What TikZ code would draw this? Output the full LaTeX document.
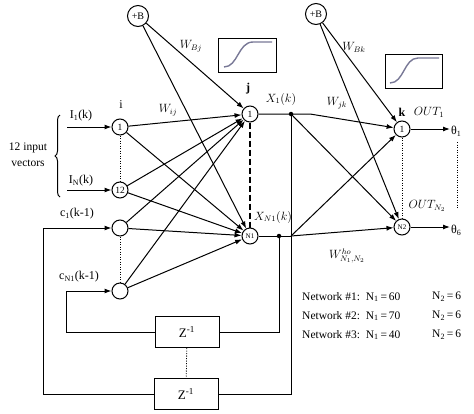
\documentclass[tikz,border=0pt]{standalone}
\usepackage{fontspec}
\setmainfont{Liberation Serif}
\usetikzlibrary{arrows.meta,decorations.pathreplacing,calc}
\definecolor{sigc}{RGB}{120,120,150}
\begin{document}
\begin{tikzpicture}[x=1pt,y=-1pt,
  neuron/.style={circle,draw,line width=1pt,minimum size=16pt,inner sep=0pt,font=\fontsize{9.5}{9.5}\selectfont},
  bias/.style={circle,draw,line width=1pt,minimum size=21pt,inner sep=0pt,font=\fontsize{10}{10}\selectfont},
  zbox/.style={draw,line width=1pt,minimum width=64pt,minimum height=31pt,inner sep=0pt,font=\fontsize{13}{13}\selectfont},
  sbox/.style={draw,line width=1pt,inner sep=0pt},
  arr/.style={line width=1pt,-{Latex[length=7pt,width=5pt]}},
  ln/.style={line width=1pt},
  dots/.style={line width=0.8pt,dash pattern=on 1pt off 1.5pt},
  lbl/.style={font=\fontsize{12}{12}\selectfont,inner sep=1pt},
  wl/.style={font=\fontsize{12}{12}\selectfont,inner sep=1pt},
  tbl/.style={font=\fontsize{11.5}{11.5}\selectfont,inner sep=1pt,anchor=west},
  dot/.style={circle,fill,inner sep=0pt,minimum size=4.5pt},
  sig/.style={line width=1.4pt,color=sigc},
]
\useasboundingbox (0,0) rectangle (474,413);

% nodes
\node[bias] (B1) at (138,16) {+B};
\node[bias] (B2) at (316,14) {+B};
\node[neuron] (i1) at (120,127) {1};
\node[neuron] (i12) at (120,190) {12};
\node[neuron] (c1) at (120,228) {};
\node[neuron] (cN) at (120,291) {};
\node[neuron] (j1) at (250,114) {1};
\node[neuron] (jN) at (250,236) {\fontsize{7}{7}\selectfont N1};
\node[neuron] (k1) at (402,129) {1};
\node[neuron] (kN) at (402,227) {\fontsize{7}{7}\selectfont N2};

% sigmoid boxes
\node[sbox,minimum width=58pt,minimum height=34pt] (s1) at (247,55) {};
\node[sbox,minimum width=57pt,minimum height=34pt] (s2) at (413.5,71) {};
\draw[sig] (224,67) .. controls (238,67) and (238,42) .. (253,42) -- (272,42);
\draw[sig] (390,83) .. controls (404,83) and (404,58) .. (418,58) -- (439,58);

% delay boxes
\node[zbox] (z1) at (187,332) {Z\textsuperscript{-1}};
\node[zbox] (z2) at (186,394) {Z\textsuperscript{-1}};

% inputs
\coordinate (in1) at (67,127);
\coordinate (inN) at (67,190);
\draw[arr] (in1) -- (i1);
\draw[arr] (inN) -- (i12);
\node[lbl] (lI1) at (81,116) {I\textsubscript{1}(k)};
\node[lbl] (lIN) at (81,181) {I\textsubscript{N}(k)};
\draw[ln,decorate,decoration={brace,amplitude=5pt}] (60,197) -- (60,115);
\node[lbl,align=center,font=\fontsize{11.5}{16}\selectfont] (l12) at (28,155) {12 input\\vectors};

% dotted separators
\draw[dots] (i1) -- (i12);
\draw[dots] (c1) -- (cN);
\draw[dots] (z1) -- (z2);
\draw[dots] (k1) -- (kN);
\coordinate (dt1) at (457,142);
\coordinate (dt2) at (457,208);
\draw[dots] (dt1) -- (dt2);
\draw[line width=2.2pt,dash pattern=on 6pt off 3pt] (j1) -- (jN);

% input -> hidden
\foreach \s in {i1,i12,c1,cN,B1} {
  \draw[arr] (\s) -- (j1);
  \draw[arr] (\s) -- (jN);
}

% hidden -> output
\node[dot] (d1) at (291,114) {};
\coordinate (bend1) at (310,114);
\draw[arr] (j1) -- (d1.center) -- (bend1) -- (k1);
\draw[arr] (d1.center) -- (kN);
\draw[ln] (d1.center) |- (z2.east);
\node[dot] (d2) at (279,236) {};
\coordinate (J2) at (291,236);
\draw[ln] (jN) -- (J2);
\draw[arr] (J2) -- (k1);
\draw[arr] (J2) -- (kN);
\draw[ln] (d2.center) |- (z1.east);
\draw[arr] (B2) -- (k1);
\draw[arr] (B2) -- (kN);

% feedback
\draw[arr] (z1.west) -- ++(-88,0) |- (cN.west);
\draw[arr] (z2.west) -- ++(-110,0) |- (c1.west);

% outputs
\node[lbl,anchor=west] (th1) at (450,131) {θ\textsubscript{1}};
\node[lbl,anchor=west] (th6) at (450,230) {θ\textsubscript{6}};
\draw[arr] (k1) -- (k1 -| th1.west);
\draw[arr] (kN) -- (kN -| th6.west);

% labels
\node[lbl] (li) at (121,105) {i};
\node[lbl] (lj) at (248,89) {\textbf{j}};
\node[lbl] (lk) at (402,112) {\textbf{k}};
\node[wl] (lX1) at (281,99) {$X_1(k)$};
\node[wl] (lXN) at (273,217) {$X_{N1}(k)$};
\node[wl] (lWBj) at (191,46) {$W_{Bj}$};
\node[wl] (lWij) at (168,110) {$W_{ij}$};
\node[wl] (lWBk) at (354,47) {$W_{Bk}$};
\node[wl] (lWjk) at (337,103) {$W_{jk}$};
\node[wl] (lO1) at (429,112) {$OUT_1$};
\node[wl] (lON) at (427,206) {$OUT_{N_2}$};
\node[wl] (lWho) at (347,256) {$W^{ho}_{N_1,N_2}$};
\node[lbl] (lc1) at (77,214) {c\textsubscript{1}(k-1)};
\node[lbl] (lcN) at (79,277) {c\textsubscript{N1}(k-1)};

% table
\node[tbl] (n1) at (301,297) {Network \#1:\ \ N\textsubscript{1}\,=\,60};
\node[tbl] (n2) at (301,316) {Network \#2:\ \ N\textsubscript{1}\,=\,70};
\node[tbl] (n3) at (301,335) {Network \#3:\ \ N\textsubscript{1}\,=\,40};
\node[tbl] (m1) at (431,297) {N\textsubscript{2}\,=\,6};
\node[tbl] (m2) at (431,316) {N\textsubscript{2}\,=\,6};
\node[tbl] (m3) at (431,335) {N\textsubscript{2}\,=\,6};
\end{tikzpicture}
\end{document}
